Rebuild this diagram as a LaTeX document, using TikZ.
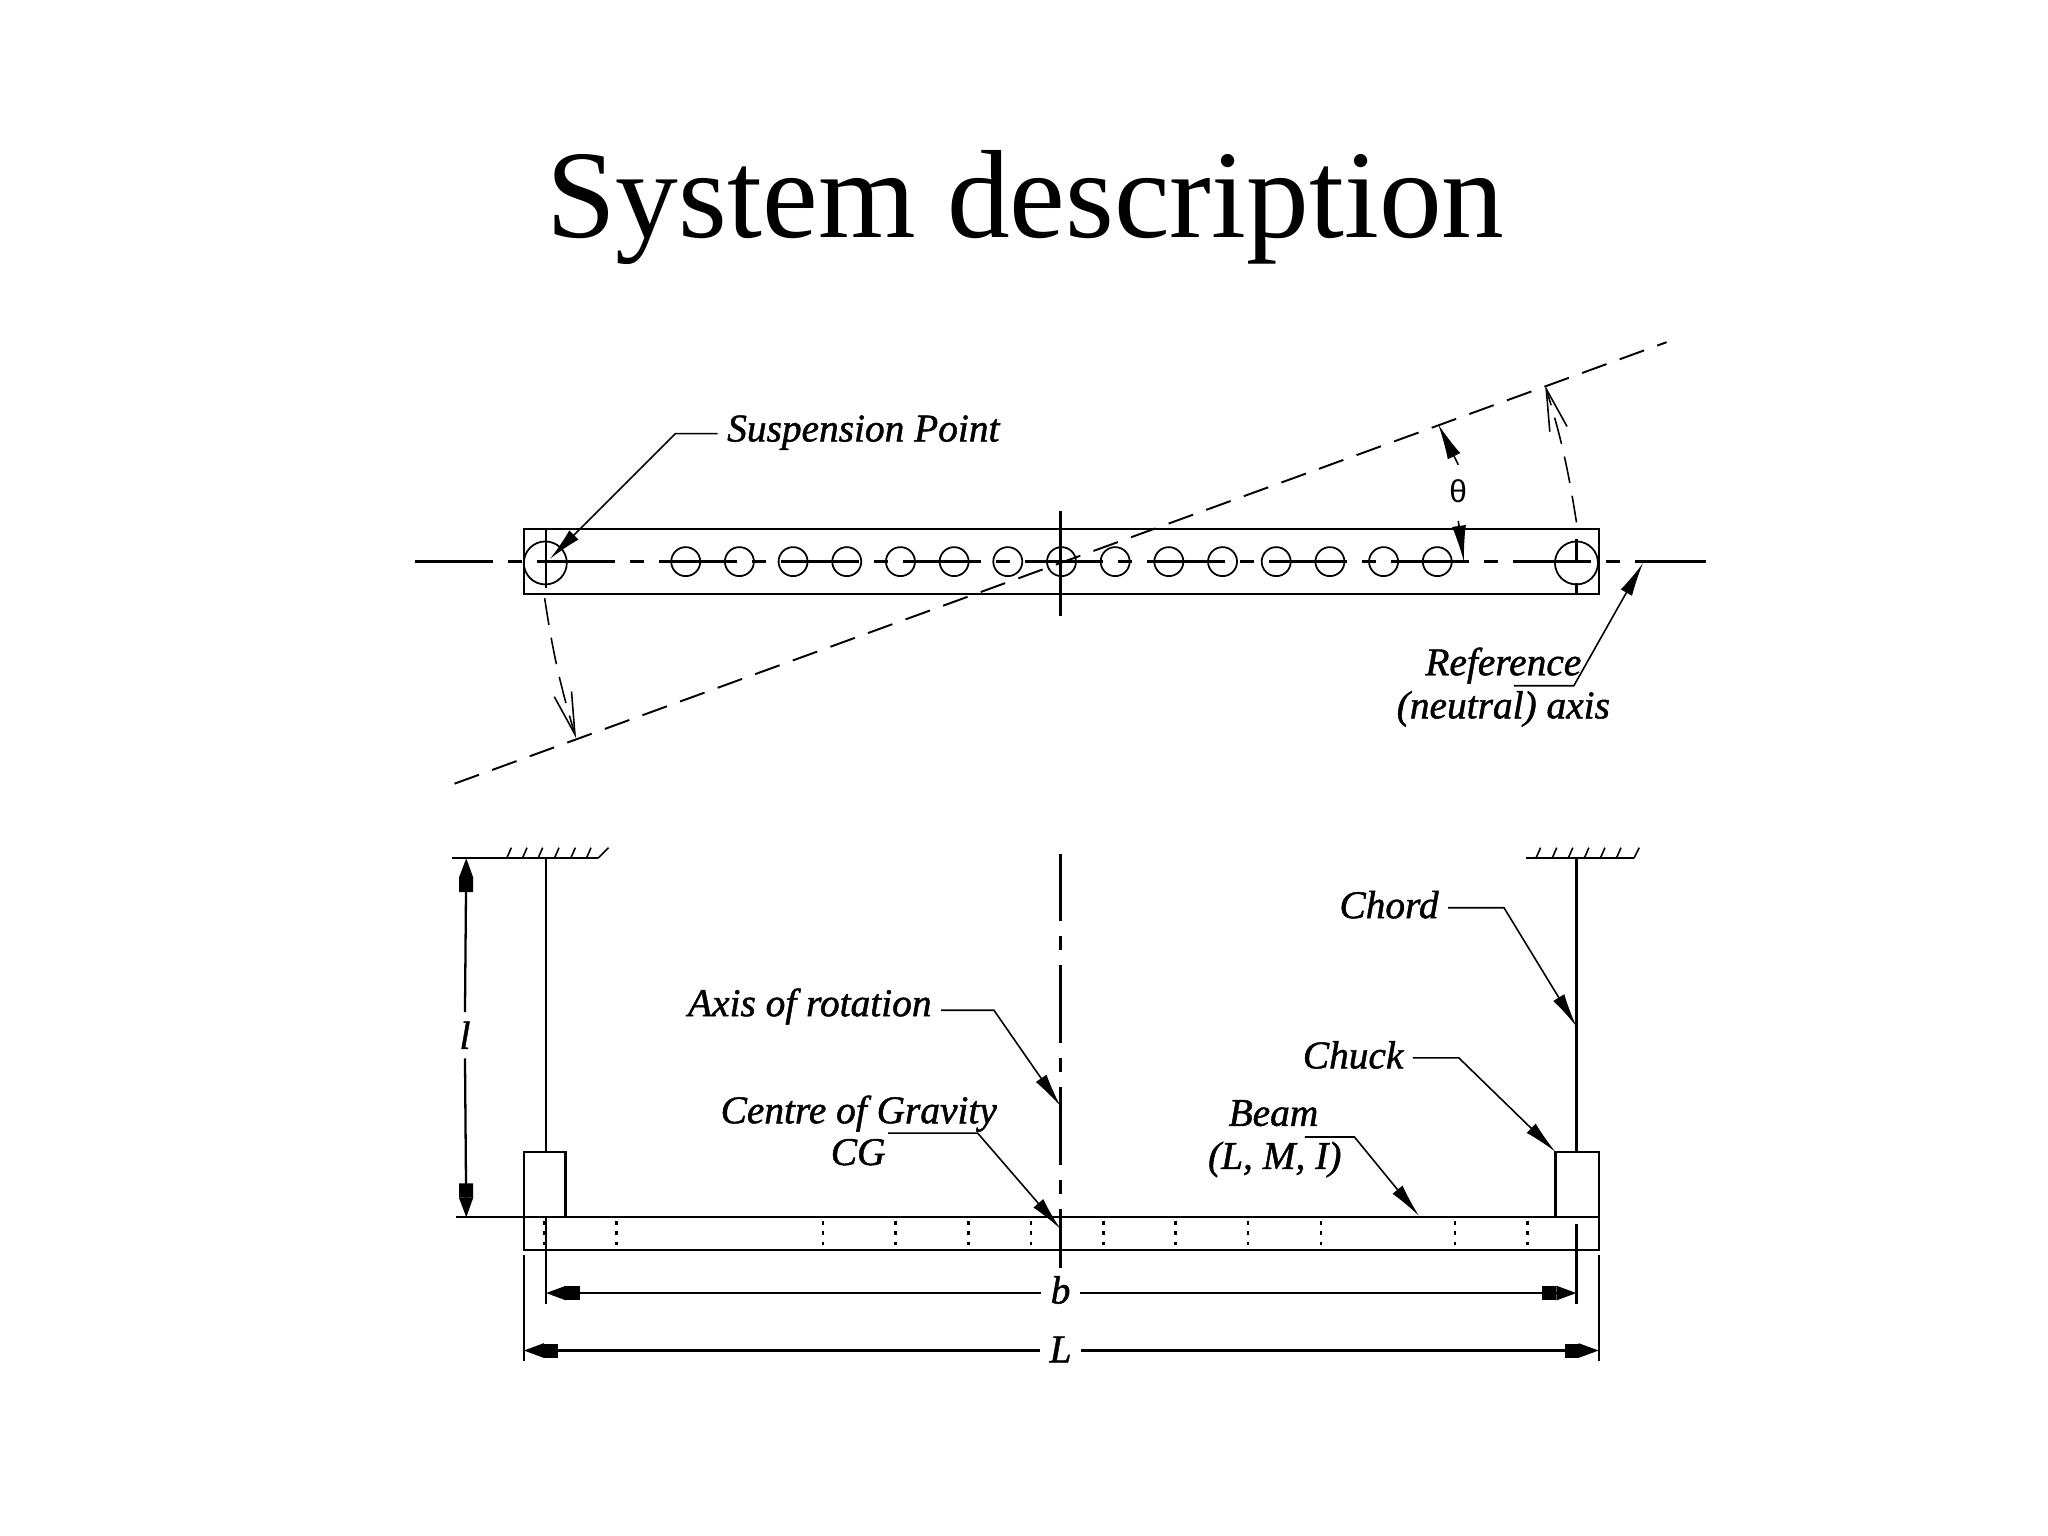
\documentclass[tikz,border=0pt]{standalone}
\usepackage{fontspec}
\setmainfont{Liberation Serif}
\newfontfamily\thetafont{Liberation Sans}
\newfontfamily\tagfont[FakeBold=1.2]{Liberation Serif Italic}
\usetikzlibrary{arrows.meta}
\tikzset{
    part/.style={line width=0.65pt},
    centreline/.style={line width=0.65pt, dash pattern=on 0.78cm off 0.15cm on 0.14cm off 0.15cm},
    swingaxis/.style={line width=0.55pt, dash pattern=on 0.26cm off 0.14cm},
    swingarrow/.style={line width=0.45pt, dash pattern=on 0.27cm off 0.13cm, -{Straight Barb[length=0.42cm,width=0.18cm]}},
    anglearrow/.style={line width=0.45pt, dash pattern=on 0.27cm off 0.13cm, -{Latex[length=0.36cm,width=0.14cm]}},
    leader/.style={line width=0.45pt, -{Latex[length=0.34cm,width=0.13cm]}},
    dimline/.style={line width=0.65pt, -{Rectangle[length=0.14cm,width=0.14cm]Triangle[length=0.2cm,width=0.14cm]}},
    tag/.style={font=\tagfont\fontsize{11.2}{12}\selectfont, inner sep=2.5pt, anchor=base},
    hole/.style={circle, draw, line width=0.5pt, minimum size=0.29cm, inner sep=0pt},
    pivot/.style={circle, draw, line width=0.5pt, minimum size=0.43cm, inner sep=0pt}
}
\begin{document}
\begin{tikzpicture}[x=0.01306cm, y=-0.01306cm]
    \useasboundingbox (0,0) rectangle (1568,1176);

    \node[font=\fontsize{35.7}{40}\selectfont, anchor=base] (title) at (785,182) {System description};

    % top view
    \draw[part] (401,405) rectangle (1224,455);
    \draw[centreline] (318,430) -- (1306,430);
    \node[pivot] (pivotL) at (417.5,431) {};
    \node[pivot] (pivotR) at (1207,431) {};
    \foreach \i in {0,...,14}
        \node[hole] (hole\i) at ({525+41.1*\i},430) {};
    \draw[part] (418,405) -- (418,450);
    \draw[part] (1207,413) -- (1207,430);
    \draw[part] (1207,446) -- (1207,455);
    \draw[part] (812,391) -- (812,472);
    \draw[swingaxis] (348,600) -- (1276,262);

    \coordinate (swingLa) at (417,458);
    \coordinate (swingLb) at (441,565);
    \coordinate (swingRa) at (1207,400);
    \coordinate (swingRb) at (1183,295);
    \draw[swingarrow] (swingLa) to[bend right=4] (swingLb);
    \draw[swingarrow] (swingRa) to[bend right=4] (swingRb);

    \node[font=\thetafont\fontsize{9}{10}\selectfont, inner sep=1pt] (theta) at (1116.5,376) {θ};
    \coordinate (thetaLow) at (1120.8,430);
    \coordinate (thetaHigh) at (1101,324.6);
    \draw[anglearrow] ([yshift=-4pt]theta.south) -- (thetaLow);
    \draw[anglearrow] ([yshift=3pt]theta.north) -- (thetaHigh);

    \node[tag] (suspension) at (661,338) {Suspension Point};
    \coordinate (suspensionBend) at (517,332);
    \coordinate (suspensionTip) at (421,428);
    \draw[leader] (suspension.west |- suspensionBend) -- (suspensionBend) -- (suspensionTip);

    \node[tag] (reference) at (1151,517) {Reference};
    \node[tag] (neutral) at (1151,550) {(neutral) axis};
    \coordinate (referenceStart) at (1159,525);
    \coordinate (referenceBend) at (1205,525);
    \coordinate (referenceTip) at (1258,431);
    \draw[leader] (referenceStart) -- (referenceBend) -- (referenceTip);

    % front view
    \draw[part] (346,657) -- (458,657);
    \draw[part] (1168,657) -- (1251,657);
    \foreach \x in {388,400,412,424.5,437,449,1176,1188.4,1200.7,1213,1225.3,1237.6}
        \draw[line width=0.45pt] (\x,657) -- ++(3.5,-8);
    \draw[line width=0.45pt] (458,657) -- ++(8,-8);
    \draw[line width=0.45pt] (1251,657) -- ++(4,-8);

    \draw[part] (418,657) -- (418,882);
    \draw[part] (1207,657) -- (1207,882);
    \draw[part] (401,882) rectangle (433,932);
    \draw[part] (1191,882) rectangle (1224,932);
    \draw[part] (401,932) rectangle (1224,957);
    \draw[part] (349,932) -- (401,932);
    \foreach \x in {417,472,630,685.5,741.5,789.5,845,900,955.5,1011.5,1114,1169.5}
        \draw[line width=0.7pt, dash pattern=on 1pt off 1.9pt] (\x,935) -- (\x,955);
    \draw[centreline, dash phase=0.11cm] (812,654) -- (812,971);

    \node[tag] (lengthChord) at (356,803) {l};
    \coordinate (lengthTop) at (357,657);
    \coordinate (lengthBottom) at (357,932);
    \draw[dimline] (lengthChord.north) -- (lengthTop);
    \draw[dimline] (lengthChord.south) -- (lengthBottom);

    \draw[part] (418,932) -- (418,998);
    \draw[part] (1207,937) -- (1207,998);
    \draw[part] (401,961) -- (401,1042);
    \draw[part] (1224,961) -- (1224,1042);
    \node[tag] (spanb) at (812,998) {b};
    \node[tag] (spanL) at (812,1043) {L};
    \coordinate (bLeft) at (418,990);
    \coordinate (bRight) at (1207,990);
    \coordinate (LLeft) at (401,1034);
    \coordinate (LRight) at (1224,1034);
    \draw[dimline] (spanb.west |- bLeft) -- (bLeft);
    \draw[dimline] (spanb.east |- bRight) -- (bRight);
    \draw[dimline] (spanL.west |- LLeft) -- (LLeft);
    \draw[dimline] (spanL.east |- LRight) -- (LRight);

    \node[tag] (rotation) at (620,778) {Axis of rotation};
    \coordinate (rotationBend) at (761,773.5);
    \coordinate (rotationTip) at (812,847);
    \draw[leader] (rotation.east |- rotationBend) -- (rotationBend) -- (rotationTip);

    \node[tag] (gravity) at (657.5,860) {Centre of Gravity};
    \node[tag] (cg) at (657,892) {CG};
    \coordinate (gravityStart) at (680,867.5);
    \coordinate (gravityBend) at (748.5,867.5);
    \coordinate (gravityTip) at (812,941);
    \draw[leader] (gravityStart) -- (gravityBend) -- (gravityTip);

    \node[tag] (chord) at (1063.5,703) {Chord};
    \coordinate (chordBend) at (1151.5,695);
    \coordinate (chordTip) at (1207,786);
    \draw[leader] (chord.east |- chordBend) -- (chordBend) -- (chordTip);

    \node[tag] (chuck) at (1036,818) {Chuck};
    \coordinate (chuckBend) at (1117,810);
    \coordinate (chuckTip) at (1191,882);
    \draw[leader] (chuck.east |- chuckBend) -- (chuckBend) -- (chuckTip);

    \node[tag] (beam) at (975,862) {Beam};
    \node[tag] (beamData) at (976,895) {(L, M, I)};
    \coordinate (beamStart) at (999,870.5);
    \coordinate (beamBend) at (1037,870.5);
    \coordinate (beamTip) at (1086.5,931);
    \draw[leader] (beamStart) -- (beamBend) -- (beamTip);

\end{tikzpicture}
\end{document}
